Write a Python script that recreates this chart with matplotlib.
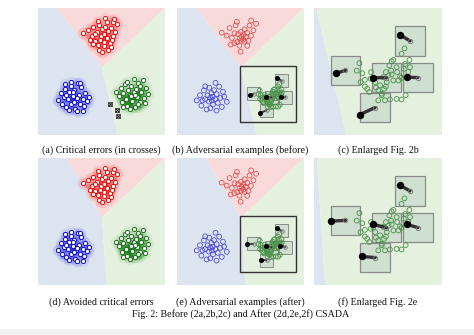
import matplotlib
matplotlib.use("Agg")
import matplotlib.pyplot as plt
from matplotlib.patches import Polygon, Rectangle
import numpy as np

plt.rcParams['font.family'] = ['Liberation Serif', 'DejaVu Serif']

# decision regions (0..100 data space): shared apex, red/blue end on top edge, blue/green end on bottom edge
apex = (50.5, 53.0)
top_before, bottom_before = 15.0, 63.0
top_after, bottom_after = 22.5, 54.0

# test points shown in (a) and (d)
red_test = [(35.8, 80.3), (39.6, 82.7), (42.3, 77.6), (43.7, 84.9), (45.2, 74.1), (46.4, 80.8),
            (47.1, 71.2), (48.3, 86.6), (49.4, 78.2), (50.2, 83.1), (51.6, 73.5), (52.3, 79.9),
            (53.1, 85.4), (54.6, 76.3), (55.2, 81.7), (56.8, 72.6), (57.3, 84.2), (58.7, 77.8),
            (59.4, 88.9), (60.2, 91.3), (62.4, 87.2), (60.9, 81.4), (57.6, 69.3), (51.9, 69.8),
            (47.8, 67.2), (43.6, 71.8), (50.4, 65.4), (54.1, 89.3), (46.9, 89.6), (58.1, 74.8),
            (41.2, 74.5), (54.8, 66.9), (52.7, 92.4), (49.0, 75.1), (44.8, 79.2)]
blue_test = [(15.5, 27.8), (17.8, 33.4), (19.2, 24.6), (20.4, 30.2), (21.1, 36.5), (22.3, 21.9),
             (23.4, 28.3), (24.2, 33.6), (25.6, 38.9), (26.1, 24.7), (27.3, 30.5), (28.5, 35.2),
             (29.1, 20.6), (30.2, 27.4), (31.3, 41.2), (32.1, 31.8), (33.4, 24.5), (34.2, 37.6),
             (35.3, 28.7), (36.6, 22.9), (37.2, 33.1), (38.4, 26.6), (40.1, 30.3), (24.4, 19.5),
             (30.4, 18.6), (26.2, 42.1), (21.3, 40.2), (33.2, 40.6), (28.3, 25.9), (35.5, 18.9),
             (22.4, 31.2), (27.6, 33.9), (31.1, 29.5)]
green_test = [(61.1, 34.2), (63.8, 30.4), (65.2, 37.1), (66.3, 26.2), (67.1, 33.4), (68.4, 40.2),
              (69.3, 28.7), (70.2, 23.1), (71.1, 35.4), (72.4, 31.2), (73.2, 38.3), (74.3, 27.1),
              (75.4, 33.5), (76.1, 21.8), (77.3, 36.4), (78.2, 29.6), (79.1, 41.3), (80.4, 26.2),
              (81.3, 34.1), (82.4, 43.2), (83.2, 29.4), (85.1, 37.3), (86.3, 32.1), (72.3, 20.6),
              (78.4, 24.2), (70.3, 42.1), (75.2, 44.3), (84.2, 25.1), (67.3, 22.2), (80.1, 38.2),
              (73.6, 30.4), (76.4, 31.8)]

# points shown in (b), (c), (e), (f)
red_adv = [(35.2, 80.6), (39.1, 78.3), (41.4, 84.2), (43.2, 76.4), (45.3, 80.1), (46.2, 86.3),
           (47.4, 73.2), (48.1, 79.4), (49.3, 76.2), (50.2, 81.1), (50.4, 74.3), (51.2, 77.4),
           (52.1, 75.2), (52.4, 79.3), (53.2, 73.4), (53.3, 83.2), (54.1, 77.3), (55.2, 80.4),
           (56.2, 74.1), (57.1, 86.2), (58.4, 90.2), (62.3, 87.6), (58.2, 78.1), (45.1, 72.3),
           (42.3, 71.2), (50.1, 65.6), (55.3, 70.2), (60.2, 82.4), (47.2, 89.1), (49.2, 70.3)]
blue_adv = [(15.5, 27.2), (18.1, 31.3), (19.2, 23.1), (21.2, 35.1), (22.1, 28.2), (23.3, 20.1),
            (24.1, 31.2), (25.2, 26.3), (25.4, 37.2), (26.1, 29.3), (27.2, 33.1), (27.4, 27.2),
            (28.1, 30.2), (28.3, 24.1), (29.2, 35.3), (30.1, 28.2), (30.3, 41.1), (31.2, 32.2),
            (32.1, 25.3), (33.2, 38.1), (34.1, 29.2), (35.3, 22.1), (37.1, 30.2), (39.2, 26.1),
            (31.1, 19.2), (22.2, 38.3), (26.3, 21.1), (36.2, 34.1), (20.1, 27.2)]
green_adv = [(65.1, 34.9), (64.2, 32.3), (66.1, 31.4), (67.0, 29.1), (65.5, 28.3), (69.1, 31.8),
             (69.0, 29.5), (67.8, 26.0), (68.5, 24.9), (70.5, 28.3), (70.8, 26.4), (71.6, 25.5),
             (72.2, 27.2), (72.8, 24.3), (73.6, 26.0), (74.2, 26.8), (74.5, 28.3), (73.3, 30.1),
             (75.1, 30.6), (76.2, 31.0), (75.4, 34.1), (76.2, 35.5), (76.8, 36.0), (76.0, 32.3),
             (77.9, 33.5), (78.1, 31.8), (78.5, 28.9), (79.1, 30.3), (80.4, 32.9), (80.8, 34.6),
             (82.3, 36.0), (81.9, 31.8), (81.0, 23.8), (79.6, 22.3), (77.9, 22.5), (75.6, 22.3),
             (73.9, 22.0), (72.8, 23.8), (71.6, 22.0), (79.6, 38.1), (80.6, 40.0), (82.5, 33.5),
             (79.6, 29.8), (74.2, 31.8), (76.8, 28.9), (69.9, 29.8), (67.0, 26.8)]

# critical errors in (a)
critical = [(56.7, 24.2), (62.0, 19.7), (62.8, 15.2)]

# attacked points, their perturbation box half width and final adversarial examples
adv_start = [(82.5, 42.6), (60.3, 32.4), (74.4, 29.9), (85.2, 29.9), (70.5, 19.5)]
eps = 5.1
adv_end_before = [(79.1, 44.7), (57.1, 31.4), (69.7, 29.8), (81.6, 30.0), (65.3, 17.1)]
adv_end_after = [(79.1, 44.5), (55.2, 32.1), (69.7, 31.0), (81.4, 31.0), (65.9, 19.9)]

# enlarged area shown in (c) and (f)
zoom_x = (49.5, 93.5)
zoom_y = (10.0, 54.0)

captions = ["(a) Critical errors (in crosses)", "(b) Adversarial examples (before)", "(c) Enlarged Fig. 2b",
            "(d) Avoided critical errors", "(e) Adversarial examples (after)", "(f) Enlarged Fig. 2e"]
fig_caption = "Fig. 2: Before (2a,2b,2c) and After (2d,2e,2f) CSADA"

region_colors = {"blue": "#dce4ef", "red": "#f9dada", "green": "#e4f1df"}
point_colors = {"red": "red", "blue": "blue", "green": "green"}
edge_colors = {"red": "#e01010", "blue": "#1010c0", "green": "#226e22"}
hollow_colors = {"red": "#e64545", "blue": "#4545d8", "green": "#4a924a"}


def xy(pts):
    return np.array(pts).T


def draw_regions(ax, top_x, bottom_x):
    blue = [(0, 0), (0, 100), (top_x, 100), apex, (bottom_x, 0)]
    red = [(top_x, 100), (100, 100), apex]
    green = [apex, (100, 100), (100, 0), (bottom_x, 0)]
    for pts, name in [(blue, "blue"), (red, "red"), (green, "green")]:
        ax.add_patch(Polygon(pts, closed=True, fc=region_colors[name], ec="none", zorder=0))


def draw_test_panel(ax, top_x, bottom_x, show_errors):
    draw_regions(ax, top_x, bottom_x)
    sets = {"red": (red_test, red_adv), "blue": (blue_test, blue_adv), "green": (green_test, green_adv)}
    # faint training cloud
    for name, (a, b) in sets.items():
        pts = xy(a + b)
        ax.scatter(pts[0], pts[1], s=70, c=point_colors[name], alpha=0.06, lw=0, zorder=1)
        ax.scatter(pts[0], pts[1], s=14, c=point_colors[name], alpha=0.22, lw=0, zorder=1)
    for name, (a, b) in sets.items():
        pts = xy(a)
        ax.scatter(pts[0], pts[1], s=9, facecolors="white", edgecolors=edge_colors[name],
                   lw=0.7, zorder=2)
    if show_errors:
        cx, cy = xy(critical)
        ax.plot(cx, cy, ls="none", marker="s", ms=3.5, mfc="#a0a0a0", mec="#444444", mew=0.6, zorder=3)
        ax.plot(cx, cy, ls="none", marker="x", ms=2.6, color="#222222", mew=0.6, zorder=4)
    ax.set_xlim(0, 100)
    ax.set_ylim(0, 100)


def draw_adv_panel(ax, top_x, bottom_x, ends, enlarged):
    draw_regions(ax, top_x, bottom_x)
    for name, pts in [("red", red_adv), ("blue", blue_adv)]:
        px, py = xy(pts)
        ax.scatter(px, py, s=12, facecolors="none", edgecolors=hollow_colors[name], lw=0.55, zorder=2)
    for sx, sy in adv_start:
        ax.add_patch(Rectangle((sx - eps, sy - eps), 2 * eps, 2 * eps, fc="#7f9a94", alpha=0.2,
                               ec="none", zorder=1))
        ax.add_patch(Rectangle((sx - eps, sy - eps), 2 * eps, 2 * eps, fc="none", ec="#8a8a8a",
                               lw=0.9 if enlarged else 0.7, zorder=1))
    gx, gy = xy(green_adv)
    ax.scatter(gx, gy, s=12, facecolors="none", edgecolors=hollow_colors["green"], lw=0.6, zorder=2)
    for (sx, sy), (ex, ey) in zip(adv_start, ends):
        ax.plot([sx, ex], [sy, ey], color="#333333", lw=2.4 if enlarged else 1.3,
                solid_capstyle="round", zorder=3)
        ax.plot([sx], [sy], ls="none", marker="o", ms=3.2 if enlarged else 2.5, mfc="none",
                mec="#777777", mew=0.6, zorder=3)
        ax.plot([ex], [ey], ls="none", marker="o", ms=4.3 if enlarged else 2.6, color="black", zorder=4)
    if enlarged:
        ax.set_xlim(*zoom_x)
        ax.set_ylim(*zoom_y)
    else:
        ax.add_patch(Rectangle((zoom_x[0], zoom_y[0]), zoom_x[1] - zoom_x[0], zoom_y[1] - zoom_y[0],
                               fc="none", ec="#333333", lw=1.0, zorder=5))
        ax.set_xlim(0, 100)
        ax.set_ylim(0, 100)


fig = plt.figure(figsize=(4.74, 3.35), dpi=100)
W, H = 474, 335
lefts = [38, 177, 314]
widths = [127, 127, 128]
tops = [8, 158]
axes = []
for r, top in enumerate(tops):
    for c in range(3):
        ax = fig.add_axes([lefts[c] / W, (H - top - 127) / H, widths[c] / W, 127 / H])
        ax.set_axis_off()
        axes.append(ax)

draw_test_panel(axes[0], top_before, bottom_before, True)
draw_adv_panel(axes[1], top_before, bottom_before, adv_end_before, False)
draw_adv_panel(axes[2], top_before, bottom_before, adv_end_before, True)
draw_test_panel(axes[3], top_after, bottom_after, False)
draw_adv_panel(axes[4], top_after, bottom_after, adv_end_after, False)
draw_adv_panel(axes[5], top_after, bottom_after, adv_end_after, True)

cap_y = [150, 302]
for i, text in enumerate(captions):
    r, c = divmod(i, 3)
    fig.text((lefts[c] + widths[c] / 2) / W, 1 - cap_y[r] / H, text, ha="center", va="center",
             fontsize=7.2, color="#111111")
fig.text(241 / W, 1 - 314 / H, fig_caption, ha="center", va="center", fontsize=7.2, color="#111111")

# light page shadow at the bottom edge
fig.patches.append(Rectangle((0, 0), 1, 6 / H, transform=fig.transFigure, fc="#f1f1f1", ec="none"))

fig.savefig("out.png", dpi=100)
